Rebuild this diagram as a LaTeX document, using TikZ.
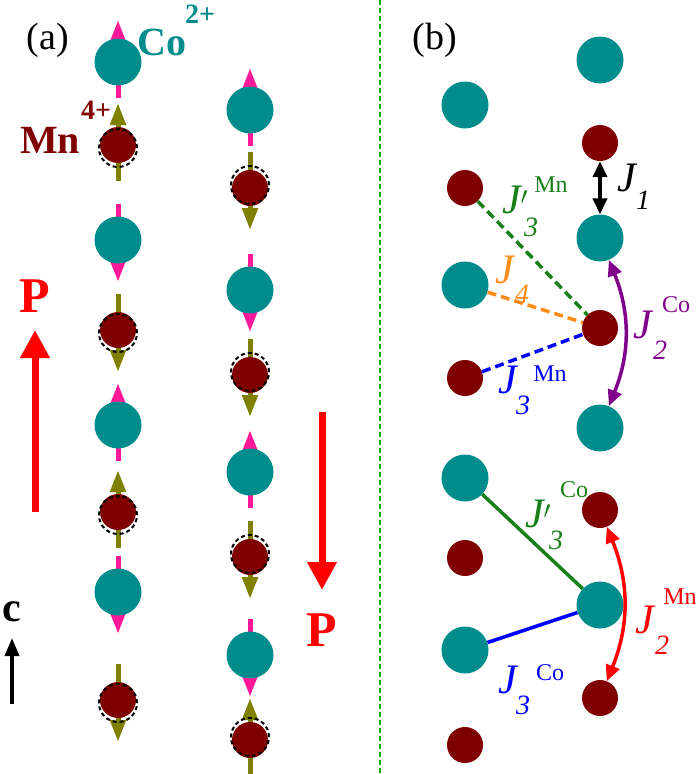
\documentclass[tikz,border=0pt]{standalone}
\usepackage{tikz}
\usepackage{fontspec}
\setmainfont{Liberation Serif}
\usetikzlibrary{arrows.meta}
\definecolor{cocol}{rgb}{0.0,0.55,0.55}
\definecolor{mncol}{rgb}{0.5,0.0,0.0}
\definecolor{spinco}{rgb}{1.0,0.1,0.6}
\definecolor{spinmn}{rgb}{0.5,0.5,0.0}
\definecolor{jorange}{rgb}{1.0,0.55,0.1}
\definecolor{jpurple}{rgb}{0.5,0.0,0.55}
\definecolor{jgreen}{rgb}{0.1,0.5,0.1}
\tikzset{
    co/.style={circle,fill=cocol,minimum size=47pt,inner sep=0pt},
    mn/.style={circle,fill=mncol,minimum size=36pt,inner sep=0pt},
    ring/.style={circle,draw=black,dash pattern=on 4pt off 3pt,line width=2pt,minimum size=38pt,inner sep=0pt},
    lbl/.style={font=\fontsize{42}{44}\itshape\selectfont,inner sep=0pt},
    sub/.style={font=\fontsize{28}{30}\itshape\selectfont,inner sep=0pt},
    sup/.style={font=\fontsize{24}{26}\selectfont,inner sep=0pt},
    jdash/.style={dash pattern=on 9pt off 5pt,line width=3.5pt},
}
\newcommand{\spinarrow}[4]{% x, y, direction (+1 up / -1 down), colour
    \draw[#4,line width=5pt,-{Triangle[length=22pt,width=15pt]}]
        (#1,#2+36*#3) -- (#1,#2-42*#3);
}
\begin{document}
\begin{tikzpicture}[x=1pt,y=-1pt,line join=bevel]
    \useasboundingbox (0,0) rectangle (700,774);
    %% panel (a)
    \node[font=\fontsize{38}{40}\selectfont] (pa) at (48,40) {(a)};
    % spins, column 1
    \foreach \y/\d in {62/1,240/-1,425/1,592/-1} {\spinarrow{118}{\y}{\d}{spinco}}
    \foreach \y/\d in {145/1,330/-1,512/1,700/-1} {\spinarrow{118}{\y}{\d}{spinmn}}
    % spins, column 2
    \foreach \y/\d in {110/1,290/-1,472/1,655/-1} {\spinarrow{250}{\y}{\d}{spinco}}
    \foreach \y/\d in {188/-1,375/-1,557/-1,740/1} {\spinarrow{250}{\y}{\d}{spinmn}}
    % ions
    \foreach \y [count=\i] in {62,240,425,592} {\node[co] (ca\i) at (118,\y) {};}
    \foreach \y [count=\i] in {145,330,512,700} {\node[mn] (ma\i) at (118,\y) {}; \node[ring] at (118,\y+3) {};}
    \foreach \y [count=\i] in {110,290,472,655} {\node[co] (cb\i) at (250,\y) {};}
    \foreach \y [count=\i] in {188,375,557,740} {\node[mn] (mb\i) at (250,\y) {}; \node[ring] at (250,\y-3) {};}
    \node[text=cocol,font=\fontsize{40}{42}\bfseries\selectfont] (colbl) at (162,42) {Co};
    \node[text=cocol,font=\fontsize{28}{30}\bfseries\selectfont] (colbs) at (200,14) {2+};
    \node[text=mncol,font=\fontsize{40}{42}\bfseries\selectfont] (mnlbl) at (50,140) {Mn};
    \node[text=mncol,font=\fontsize{28}{30}\bfseries\selectfont] (mnlbs) at (96,110) {4+};
    % polarisation
    \coordinate (pu0) at (35,512);
    \coordinate (pu1) at (35,330);
    \draw[red,line width=7pt,-{Triangle[length=28pt,width=28pt]}] (pu0) -- (pu1);
    \node[text=red,font=\fontsize{50}{52}\bfseries\selectfont] (pup) at (35,296) {P};
    \coordinate (pd0) at (322,412);
    \coordinate (pd1) at (322,590);
    \draw[red,line width=7pt,-{Triangle[length=28pt,width=28pt]}] (pd0) -- (pd1);
    \node[text=red,font=\fontsize{50}{52}\bfseries\selectfont] (pdn) at (322,630) {P};
    \coordinate (c0) at (12,704);
    \coordinate (c1) at (12,638);
    \draw[line width=3.5pt,-{Triangle[length=18pt,width=14pt]}] (c0) -- (c1);
    \node[font=\fontsize{42}{44}\bfseries\selectfont] (clbl) at (12,612) {c};
    % divider
    \draw[green!70!black,dash pattern=on 5pt off 3pt,line width=1.5pt] (380,0) -- (380,774);
    %% panel (b)
    \node[font=\fontsize{38}{40}\selectfont] (pb) at (435,40) {(b)};
    \foreach \y [count=\i] in {105,285,478,650} {\node[co] (cl\i) at (465,\y) {};}
    \foreach \y [count=\i] in {188,378,558,745} {\node[mn] (ml\i) at (465,\y) {};}
    \foreach \y [count=\i] in {60,238,428,605} {\node[co] (cr\i) at (600,\y) {};}
    \foreach \y [count=\i] in {143,328,510,698} {\node[mn] (mr\i) at (600,\y) {};}
    % exchange paths
    \draw[line width=4pt,{Triangle[length=16pt,width=14pt]}-{Triangle[length=16pt,width=14pt]}] (mr1) -- (cr2);
    \node[lbl] (j1) at (627,178) {J};
    \node[sub] (j1s) at (643,200) {1};
    \draw[jgreen,jdash] (ml1) -- (mr2);
    \node[lbl,text=jgreen] (j3p) at (515,200) {J$'$};
    \node[sub,text=jgreen] (j3ps) at (531,227) {3};
    \node[sup,text=jgreen] (j3pm) at (551,185) {Mn};
    \draw[jorange,jdash] (cl2) -- (mr2);
    \node[lbl,text=jorange] (j4) at (505,270) {J};
    \node[sub,text=jorange] (j4s) at (522,294) {4};
    \draw[blue,jdash] (ml2) -- (mr2);
    \node[lbl,text=blue] (j3) at (508,380) {J};
    \node[sub,text=blue] (j3s) at (523,405) {3};
    \node[sup,text=blue] (j3m) at (550,374) {Mn};
    \draw[jpurple,line width=3.5pt,{Triangle[length=16pt,width=14pt]}-{Triangle[length=16pt,width=14pt]}] (cr2) to[bend left=22] (cr3);
    \node[lbl,text=jpurple] (j2) at (643,325) {J};
    \node[sub,text=jpurple] (j2s) at (660,350) {2};
    \node[sup,text=jpurple] (j2c) at (676,305) {Co};
    \draw[jgreen,line width=3.5pt] (cl3) -- (cr4);
    \node[lbl,text=jgreen] (j3pc) at (538,514) {J$'$};
    \node[sub,text=jgreen] (j3pcs) at (556,540) {3};
    \node[sup,text=jgreen] (j3pcu) at (574,490) {Co};
    \draw[blue,line width=3.5pt] (cl4) -- (cr4);
    \node[lbl,text=blue] (j3c) at (508,680) {J};
    \node[sub,text=blue] (j3cs) at (523,705) {3};
    \node[sup,text=blue] (j3cu) at (550,673) {Co};
    \draw[red,line width=3.5pt,{Triangle[length=16pt,width=14pt]}-{Triangle[length=16pt,width=14pt]}] (mr3) to[bend left=22] (mr4);
    \node[lbl,text=red] (j2m) at (645,620) {J};
    \node[sub,text=red] (j2ms) at (662,645) {2};
    \node[sup,text=red] (j2mu) at (680,597) {Mn};
\end{tikzpicture}
\end{document}
